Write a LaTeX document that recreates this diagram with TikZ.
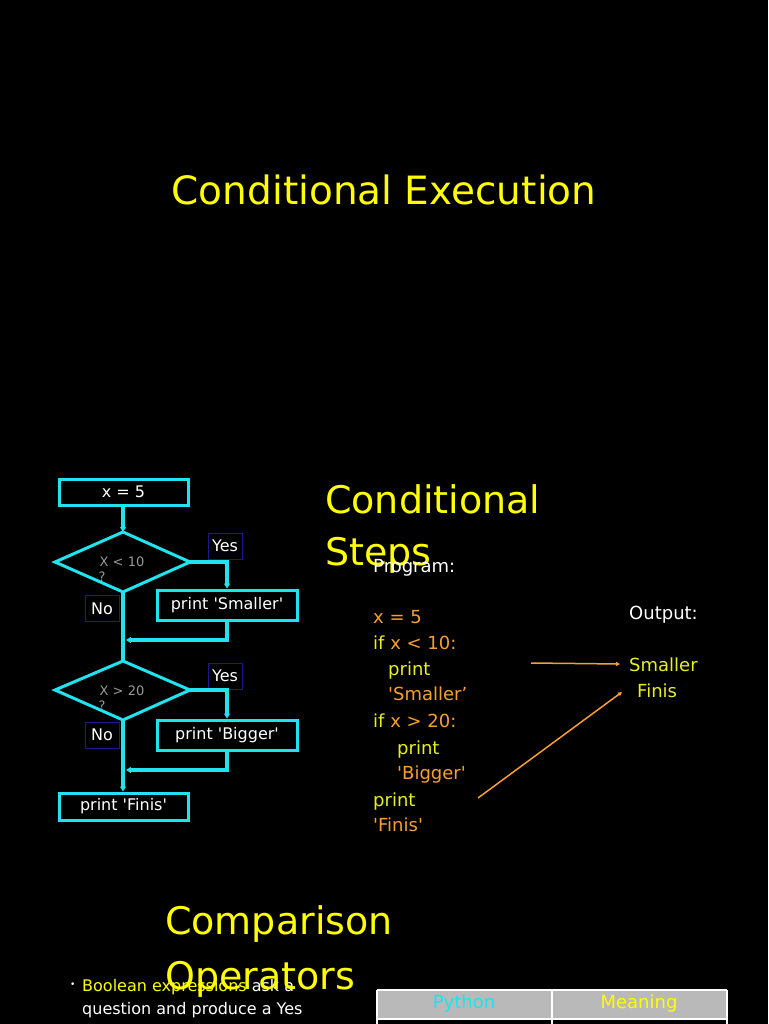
\documentclass[tikz,border=0pt]{standalone}
\usepackage{fontspec}
\setmainfont{DejaVu Sans}[Ligatures=TeXOff]
\usetikzlibrary{arrows.meta}
\definecolor{cy}{HTML}{1FE3EE}
\definecolor{yl}{HTML}{FFFF00}
\definecolor{cyl}{HTML}{E8F020}
\definecolor{og}{HTML}{F7A030}
\definecolor{nb}{HTML}{1A1A90}
\begin{document}
\begin{tikzpicture}[x=1pt,y=-1pt,
  fbox/.style={draw=cy,line width=3pt,text=white,font=\fontsize{16}{16}\selectfont,inner sep=0pt,minimum height=26pt},
  lab/.style={draw=nb,line width=0.8pt,text=white,font=\fontsize{16}{16}\selectfont,minimum width=34pt,minimum height=26pt,inner sep=0pt},
  flow/.style={cy,line width=3.5pt},
  arr/.style={flow,-{Triangle[length=5pt,width=6pt]}},
  code/.style={anchor=base west,font=\fontsize{18}{18}\selectfont,inner sep=0pt},
  ttl/.style={text=yl,anchor=base west,inner sep=0pt,font=\fontsize{38}{38}\selectfont}]
\useasboundingbox (0,0) rectangle (768,1024);
\clip (0,0) rectangle (768,1024);
\fill[black] (0,0) rectangle (768,1024);
\node[text=yl,font=\fontsize{39}{39}\selectfont] (title) at (384,190) {Conditional Execution};
% flowchart
\node[fbox,minimum width=129pt] (x5) at (123.5,492) {x = 5};
\coordinate (d1t) at (123,532); \coordinate (d1b) at (123,592);
\coordinate (d1l) at (55,562); \coordinate (d1r) at (190,562);
\draw[cy,line width=3pt,line join=miter] (d1t) -- (d1r) -- (d1b) -- (d1l) -- cycle;
\node[text=gray!80,font=\fontsize{13}{13}\selectfont] (c1) at (122,562) {X < 10};
\node[text=gray!80,font=\fontsize{13}{13}\selectfont] (q1) at (102,577) {?};
\node[fbox,minimum width=140pt,minimum height=30pt] (sm) at (227,605) {print 'Smaller'};
\node[lab] (y1) at (225,546) {Yes};
\node[lab] (n1) at (102,608.5) {No};
\coordinate (d2t) at (123,661); \coordinate (d2b) at (123,720);
\coordinate (d2l) at (55,690); \coordinate (d2r) at (190,690);
\draw[cy,line width=3pt,line join=miter] (d2t) -- (d2r) -- (d2b) -- (d2l) -- cycle;
\node[text=gray!80,font=\fontsize{13}{13}\selectfont] (c2) at (122,691) {X > 20};
\node[text=gray!80,font=\fontsize{13}{13}\selectfont] (q2) at (102,706) {?};
\node[fbox,minimum width=140pt,minimum height=30pt] (bg) at (227,735) {print 'Bigger'};
\node[lab] (y2) at (225,676) {Yes};
\node[lab] (n2) at (102,735) {No};
\node[fbox,minimum width=129pt,minimum height=27pt] (fin) at (123.5,806.5) {print 'Finis'};
\coordinate (m1) at (126,640); \coordinate (m2) at (126,770);
\draw[arr] (x5.south -| d1t) -- (d1t);
\draw[arr] (d1r) -- (d1r -| sm.north) -- (sm.north);
\draw[arr] (sm.south) -- (sm.south |- m1) -- (m1);
\draw[flow] (d1b) -- (d2t);
\draw[arr] (d2r) -- (d2r -| bg.north) -- (bg.north);
\draw[arr] (bg.south) -- (bg.south |- m2) -- (m2);
\draw[arr] (d2b) -- (fin.north -| d2b);
% conditional steps
\node[ttl] (cs1) at (325,513) {Conditional};
\node[ttl] (cs2) at (325,565) {Steps};
\node[code,text=white] (prog) at (373,572) {Program:};
\node[code,text=og] (l1) at (373,623) {x = 5};
\node[code] (l2) at (373,649) {\textcolor{cyl}{if} \textcolor{og}{x < 10:}};
\node[code,text=cyl] (l3) at (388,675) {print};
\node[code,text=og] (l4) at (388,700) {'Smaller’};
\node[code] (l5) at (373,727) {\textcolor{cyl}{if} \textcolor{og}{x > 20:}};
\node[code,text=cyl] (l6) at (397,754) {print};
\node[code,text=og] (l7) at (397,779) {'Bigger'};
\node[code,text=cyl] (l8) at (373,806) {print};
\node[code,text=og] (l9) at (373,831) {'Finis'};
\node[code,text=white] (out) at (629,619) {Output:};
\node[code,text=cyl] (o1) at (629,671) {Smaller};
\node[code,text=cyl] (o2) at (637,697) {Finis};
\coordinate (a1s) at (531,663); \coordinate (a2s) at (478,798);
\draw[og,line width=1.5pt,-{Triangle[length=4pt,width=4pt]}] (a1s) -- (620,664);
\draw[og,line width=1.5pt,-{Triangle[length=4pt,width=4pt]}] (a2s) -- (622,692);
% comparison operators
\node[code,text=yl,font=\fontsize{16}{16}\selectfont] (b1) at (82,991) {Boolean expressions \textcolor{white}{ask a}};
\node[code,text=white,font=\fontsize{16}{16}\selectfont] (b2) at (82,1014) {question and produce a Yes};
\node[code,text=white,font=\fontsize{16}{16}\selectfont] (b3) at (82,1037) {or No result which we use};
\node[code,text=white,font=\fontsize{9}{9}\selectfont] (bul) at (70,987) {•};
\node[ttl] (co1) at (165,934) {Comparison};
\node[ttl] (co2) at (165,989) {Operators};
\fill[gray!55] (377,990) rectangle (727,1019);
\draw[white,line width=1.5pt] (377,990) -- (727,990) (377,1019) -- (727,1019) (552,990) -- (552,1024) (377,990) -- (377,1024) (727,990) -- (727,1024);
\node[text=cy,font=\fontsize{18}{18}\selectfont] (th1) at (464,1004) {Python};
\node[text=yl,font=\fontsize{18}{18}\selectfont] (th2) at (639,1004) {Meaning};
\end{tikzpicture}
\end{document}
